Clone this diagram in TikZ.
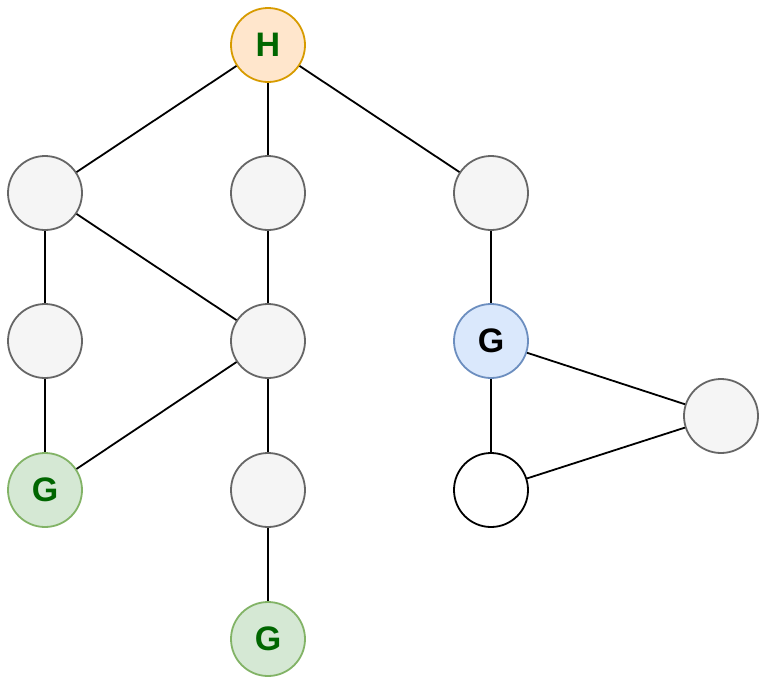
\documentclass[tikz,border=0pt]{standalone}
\usepackage{fontspec}
\setmainfont{Liberation Sans}
\definecolor{grayfill}{HTML}{F5F5F5}
\definecolor{graystroke}{HTML}{666666}
\definecolor{orangefill}{HTML}{FFE6CC}
\definecolor{orangestroke}{HTML}{D79B00}
\definecolor{bluefill}{HTML}{DAE8FC}
\definecolor{bluestroke}{HTML}{6C8EBF}
\definecolor{greenfill}{HTML}{D5E8D4}
\definecolor{greenstroke}{HTML}{82B366}
\definecolor{darkgreentext}{HTML}{006600}
\begin{document}
\begin{tikzpicture}[x=1pt,y=-1pt,
  vert/.style={circle,minimum size=74pt,inner sep=0pt,line width=1.8pt,font=\fontsize{34}{34}\selectfont\bfseries},
  plain/.style={vert,draw=graystroke,fill=grayfill},
  start/.style={vert,draw=orangestroke,fill=orangefill,text=darkgreentext},
  goalb/.style={vert,draw=bluestroke,fill=bluefill,text=black},
  goalg/.style={vert,draw=greenstroke,fill=greenfill,text=darkgreentext},
  empty/.style={vert,draw=black,fill=white},
  edge/.style={line width=1.8pt,black}]
\useasboundingbox (0,0) rectangle (768,686);
\node[start] (h) at (268,45) {H};
\node[plain] (a1) at (45,193) {};
\node[plain] (a2) at (268,193) {};
\node[plain] (a3) at (491,193) {};
\node[plain] (b1) at (45,341) {};
\node[plain] (b2) at (268,341) {};
\node[goalb] (b3) at (491,341) {G};
\node[plain] (r) at (721,416) {};
\node[goalg] (c1) at (45,490) {G};
\node[plain] (c2) at (268,490) {};
\node[empty] (c3) at (491,490) {};
\node[goalg] (d2) at (268,639) {G};
\draw[edge] (h) -- (a1);
\draw[edge] (h) -- (a2);
\draw[edge] (h) -- (a3);
\draw[edge] (a1) -- (b1);
\draw[edge] (a1) -- (b2);
\draw[edge] (a2) -- (b2);
\draw[edge] (a3) -- (b3);
\draw[edge] (b1) -- (c1);
\draw[edge] (b2) -- (c1);
\draw[edge] (b2) -- (c2);
\draw[edge] (c2) -- (d2);
\draw[edge] (b3) -- (r);
\draw[edge] (b3) -- (c3);
\draw[edge] (c3) -- (r);
\end{tikzpicture}
\end{document}
